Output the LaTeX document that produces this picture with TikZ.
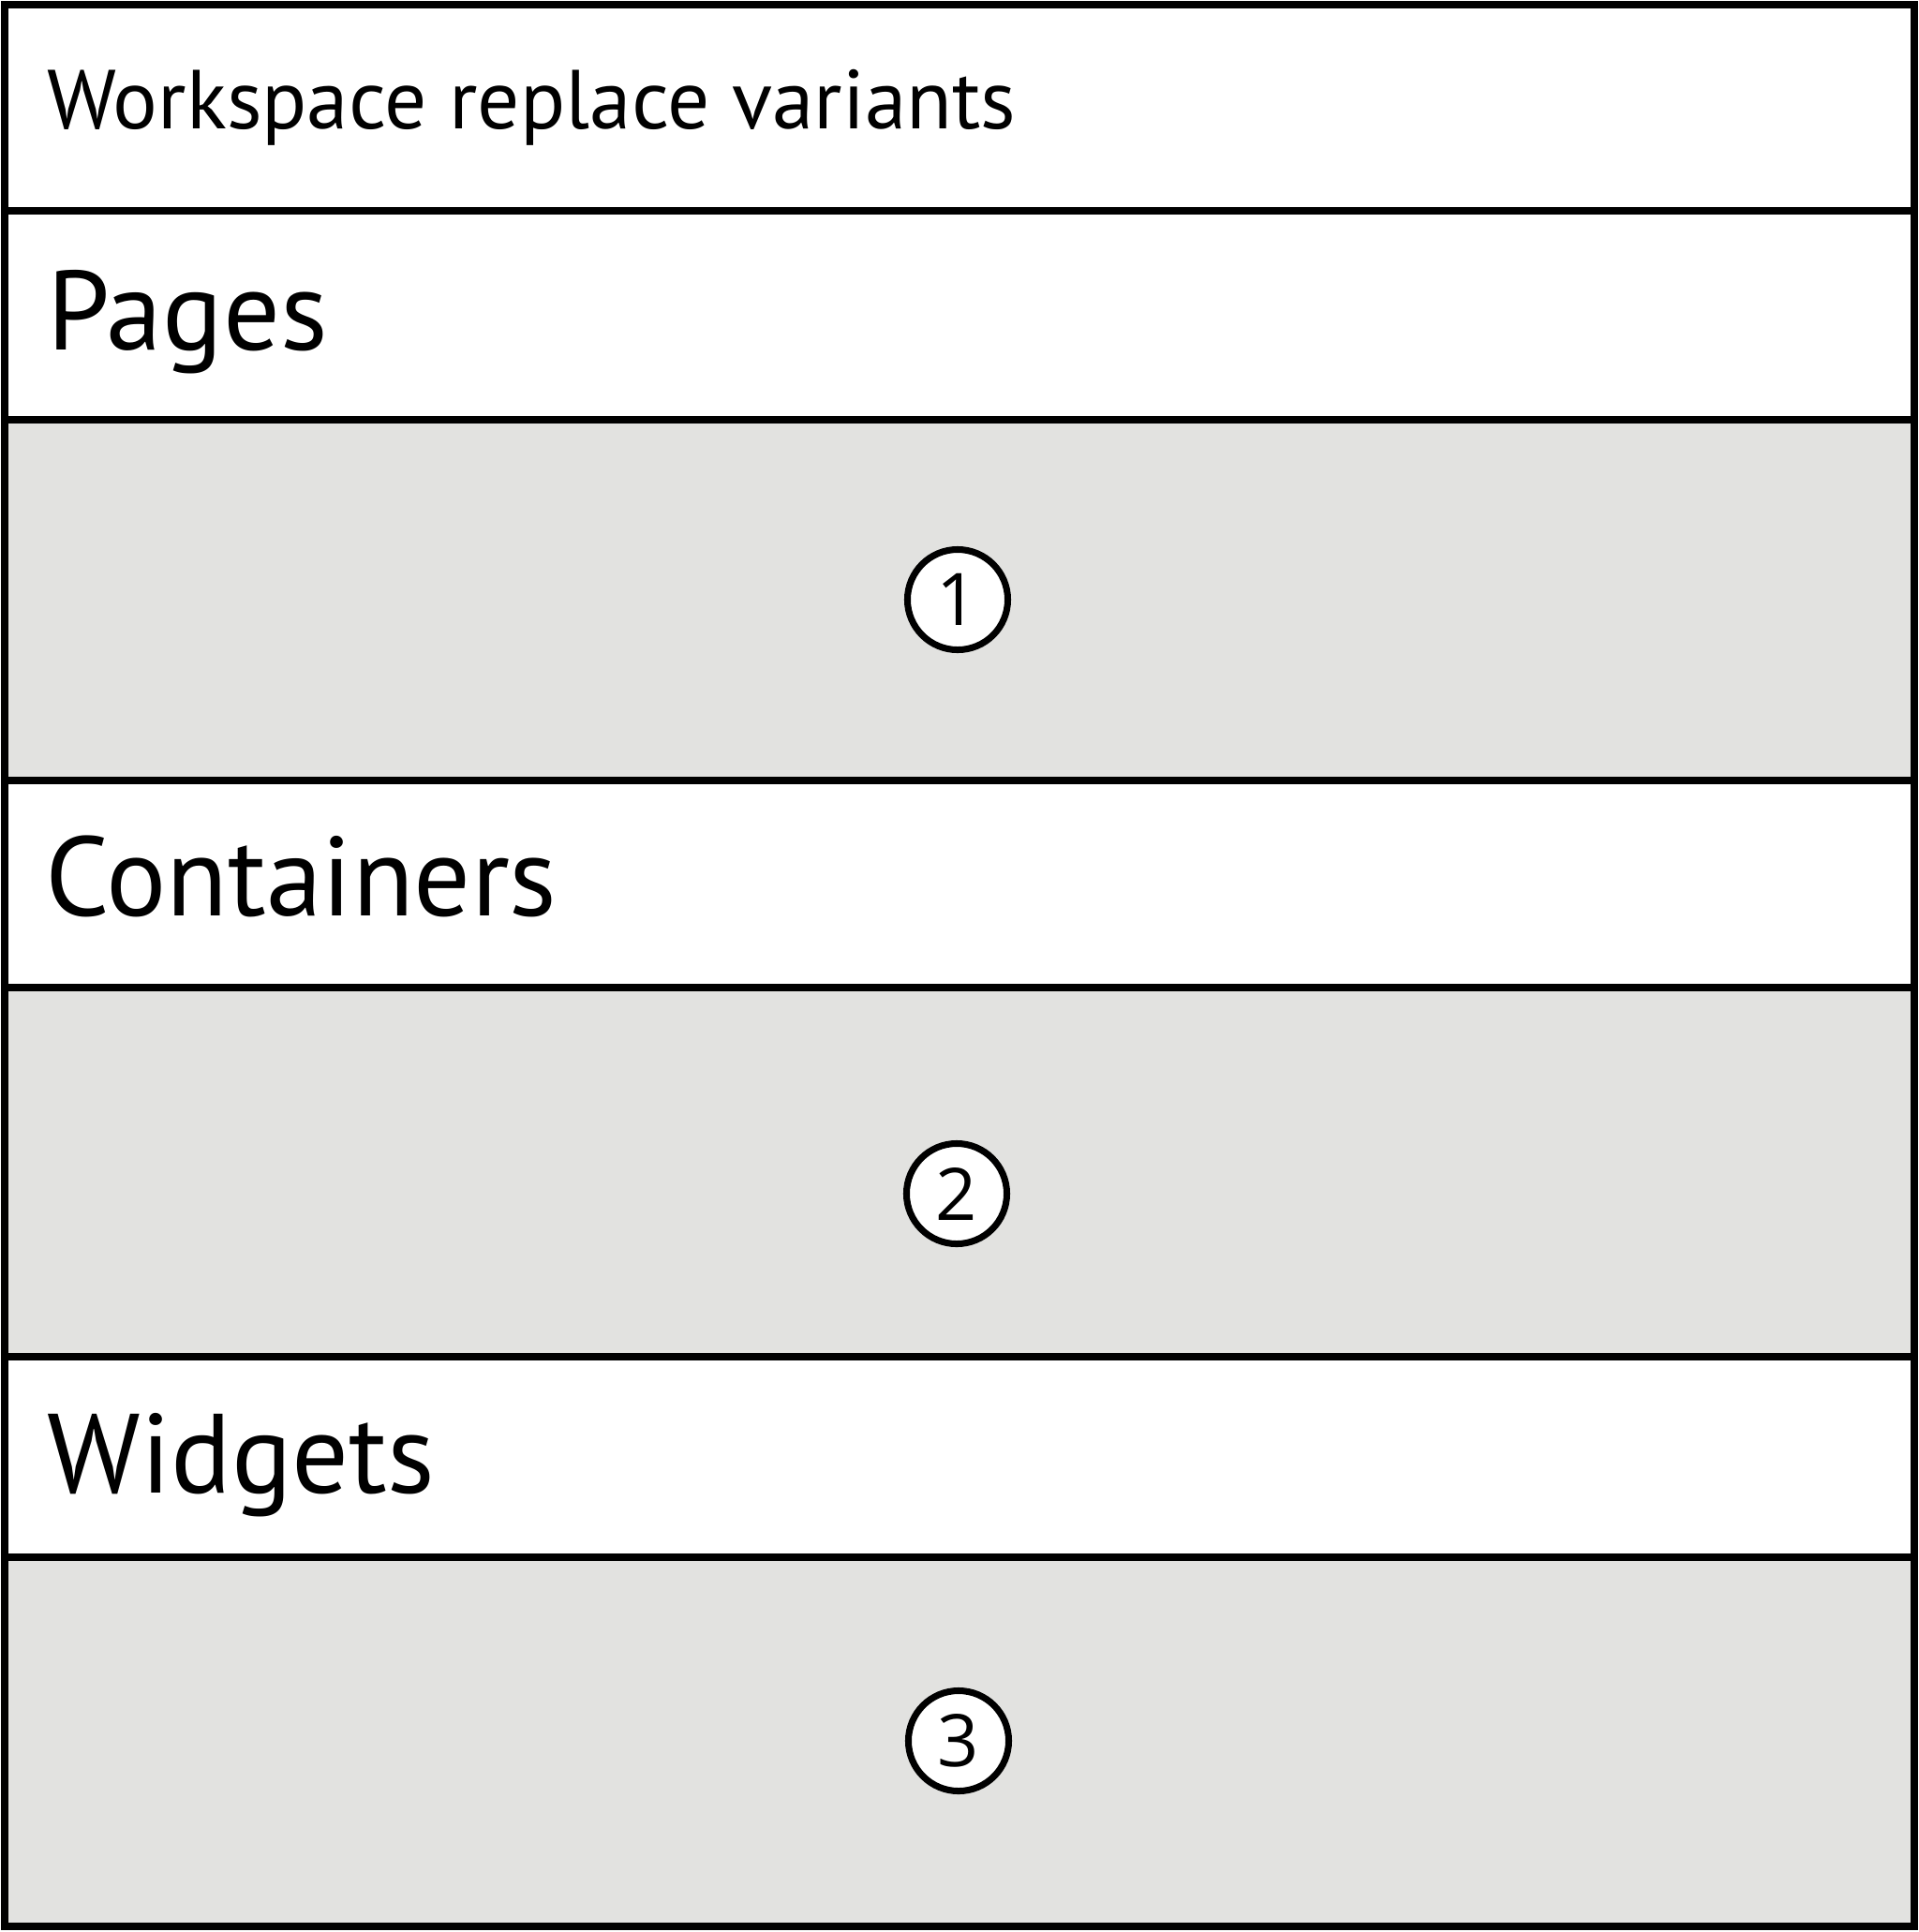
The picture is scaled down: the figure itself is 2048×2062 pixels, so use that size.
\documentclass[tikz,border=0pt]{standalone}
\usepackage{fontspec}
\setmainfont{PT Sans}
\newfontfamily\digitfont{Open Sans}
\definecolor{bandgray}{RGB}{226,226,224}
\tikzset{
  px/.style={x=0.01cm,y=-0.01cm},
  frameline/.style={line width=2.1pt,draw=black},
  band/.style={fill=bandgray,draw=none},
  smalltitle/.style={anchor=base west,inner sep=0pt,font=\fontsize{25.4}{25.4}\selectfont},
  bigtitle/.style={anchor=base west,inner sep=0pt,font=\fontsize{34.2}{34.2}\selectfont},
  numcircle/.style={circle,draw=black,fill=white,line width=2pt,minimum size=1.07cm,inner sep=0pt,font=\digitfont\fontsize{22}{22}\selectfont}
}
\begin{document}
\begin{tikzpicture}[px]
\useasboundingbox (0,0) rectangle (2048,2062);
\fill[white] (0,0) rectangle (2048,2062);
% gray bands
\fill[band] (5,448) rectangle (2043,833);
\fill[band] (5,1054) rectangle (2043,1448);
\fill[band] (5,1662) rectangle (2043,2056);
% frame and separators
\draw[frameline] (5,5) rectangle (2043,2056);
\foreach \yy in {225,448,833,1054,1448,1662}
  \draw[frameline] (5,\yy) -- (2043,\yy);
% titles
\node[smalltitle] (ws) at (50,137) {Workspace replace variants};
\node[bigtitle] (pages) at (50,373) {Pages};
\node[bigtitle] (containers) at (48,977) {Containers};
\node[bigtitle] (widgets) at (50,1593) {Widgets};
% numbered circles
\node[numcircle] (c1) at (1022,640) {1};
\node[numcircle] (c2) at (1021,1274) {2};
\node[numcircle] (c3) at (1023,1858) {3};
\end{tikzpicture}
\end{document}
